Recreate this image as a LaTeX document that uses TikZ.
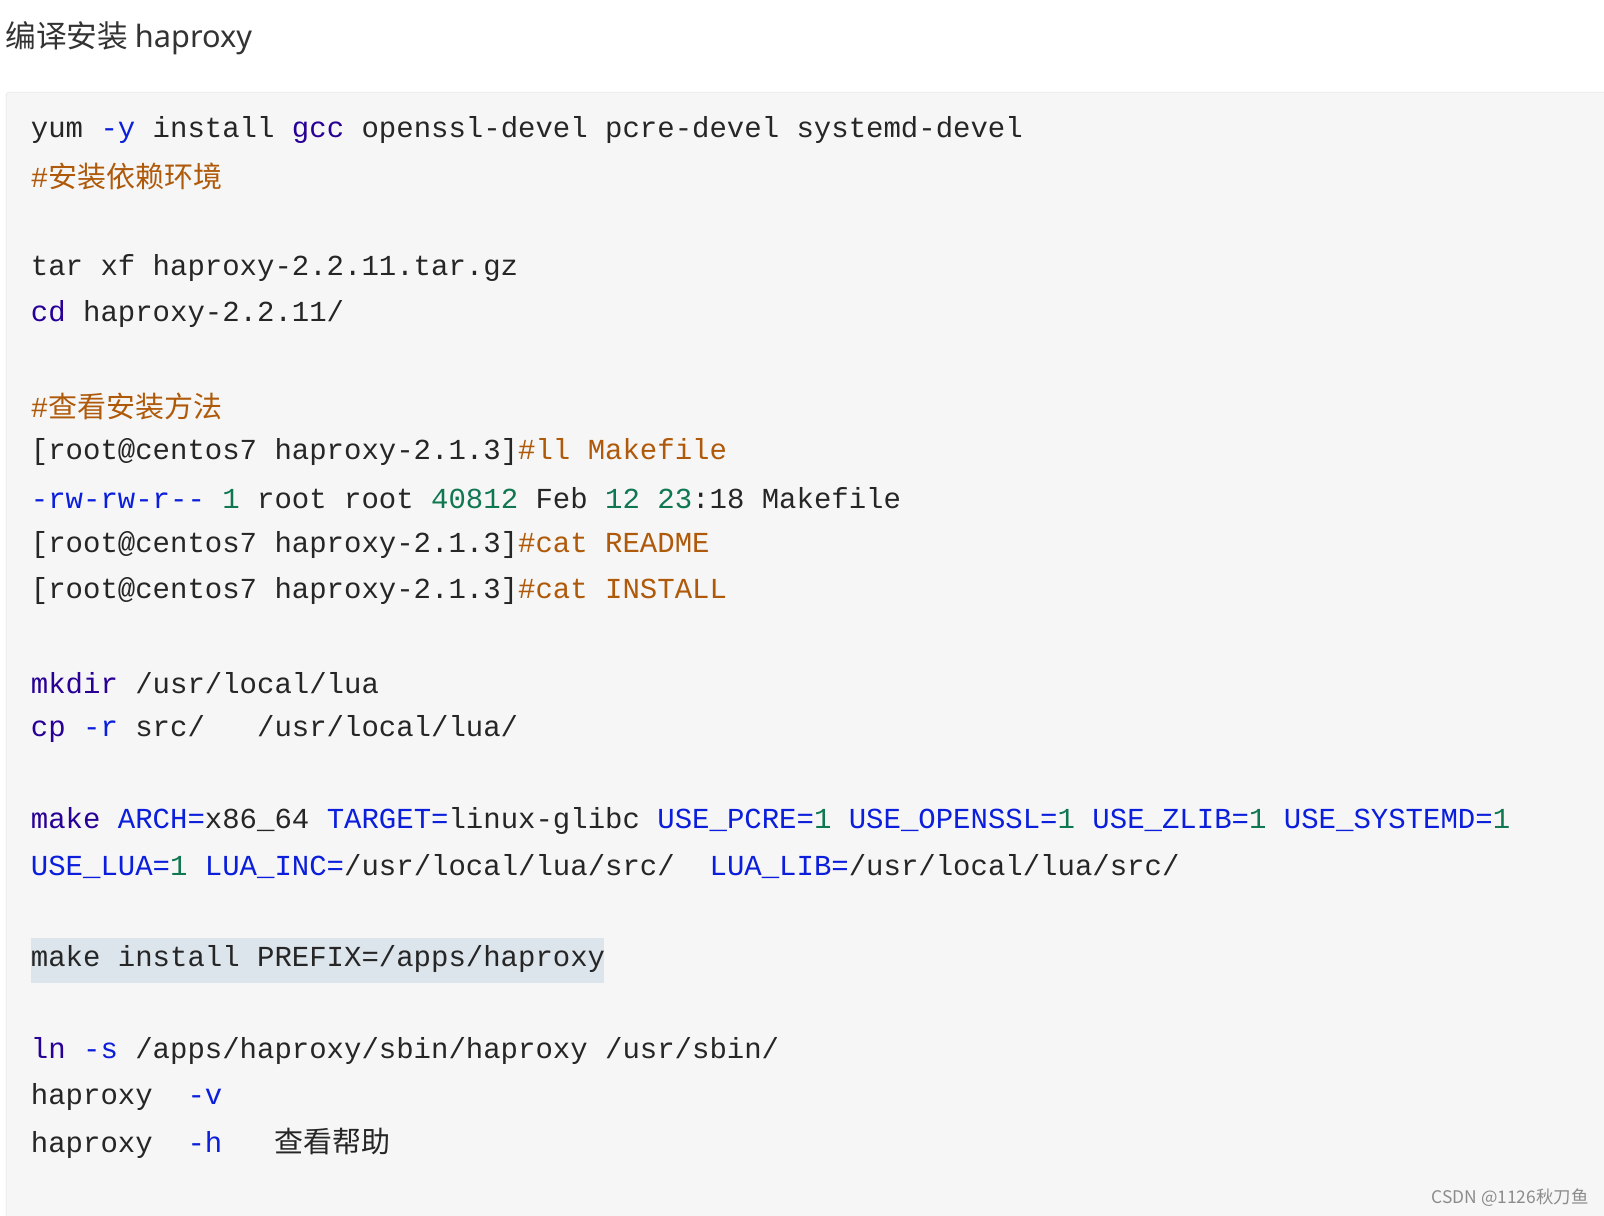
\documentclass[tikz,border=0pt]{standalone}
\usepackage{fontspec}
\setmainfont{Liberation Sans}
\setmonofont{Liberation Mono}
\newfontfamily\cjk{Noto Sans CJK SC}
\definecolor{kwa}{RGB}{40,0,150}
\definecolor{kwb}{RGB}{10,30,220}
\definecolor{num}{RGB}{16,120,80}
\definecolor{cmt}{RGB}{175,90,10}
\definecolor{bg}{RGB}{246,246,246}
\definecolor{bd}{RGB}{225,225,225}
\definecolor{hl}{RGB}{220,228,236}
\newcommand{\A}[1]{\textcolor{kwa}{#1}}
\newcommand{\B}[1]{\textcolor{kwb}{#1}}
\newcommand{\N}[1]{\textcolor{num}{#1}}
\newcommand{\C}[1]{\textcolor{cmt}{#1}}
\begin{document}
\begin{tikzpicture}[x=1.0236pt,y=-1.0236pt,
 code/.style={anchor=west,inner sep=0pt,font=\ttfamily\fontsize{29}{31}\selectfont,text=black!85}]
\useasboundingbox (0,0) rectangle (1567,1187);
\begin{scope}
\clip (0,0) rectangle (1567,1187);
\fill[white] (0,0) rectangle (1567,1187);
\draw[bd,fill=bg,rounded corners=3pt] (6,90) rectangle (1580,1230);
\fill[hl] (30,916) rectangle (590,960);
\end{scope}
\node[anchor=west,inner sep=0pt,font=\cjk\fontsize{30.7}{32}\selectfont,text=black!80] (title) at (5,37) {编译安装 \fontspec{Noto Sans}haproxy};
\node[code] (l1) at (30,127) {yum \B{-y} install \A{gcc} openssl-devel pcre-devel systemd-devel};
\node[code] (l2) at (30,172) {\C{\#{\cjk 安装依赖环境}}};
\node[code] (l3) at (30,262) {tar xf haproxy-2.2.11.tar.gz};
\node[code] (l4) at (30,307) {\A{cd} haproxy-2.2.11/};
\node[code] (l5) at (30,397) {\C{\#{\cjk 查看安装方法}}};
\node[code] (l6) at (30,442) {[root@centos7 haproxy-2.1.3]\C{\#ll Makefile}};
\node[code] (l7) at (30,487) {\B{-rw-rw-r--} \N{1} root root \N{40812} Feb \N{12} \N{23}:18 Makefile};
\node[code] (l8) at (30,532) {[root@centos7 haproxy-2.1.3]\C{\#cat README}};
\node[code] (l9) at (30,577) {[root@centos7 haproxy-2.1.3]\C{\#cat INSTALL}};
\node[code] (l10) at (30,667) {\A{mkdir} /usr/local/lua};
\node[code] (l11) at (30,712) {\A{cp} \B{-r} src/\ \ \ /usr/local/lua/};
\node[code] (l12) at (30,802) {\A{make} \B{ARCH=}x86\_64 \B{TARGET=}linux-glibc \B{USE\_PCRE=}\N{1} \B{USE\_OPENSSL=}\N{1} \B{USE\_ZLIB=}\N{1} \B{USE\_SYSTEMD=}\N{1}};
\node[code] (l13) at (30,847) {\B{USE\_LUA=}\N{1} \B{LUA\_INC=}/usr/local/lua/src/\ \ \B{LUA\_LIB=}/usr/local/lua/src/};
\node[code] (l14) at (30,937) {make install PREFIX=/apps/haproxy};
\node[code] (l15) at (30,1027) {\A{ln} \B{-s} /apps/haproxy/sbin/haproxy /usr/sbin/};
\node[code] (l16) at (30,1072) {haproxy\ \ \B{-v}};
\node[code] (l17) at (30,1117) {haproxy\ \ \B{-h}\ \ \ {\cjk 查看帮助}};
\node[anchor=east,inner sep=0pt,font=\cjk\fontsize{17.4}{19}\selectfont,text=black!45] (wm) at (1552,1170) {CSDN @1126秋刀鱼};
\end{tikzpicture}
\end{document}
